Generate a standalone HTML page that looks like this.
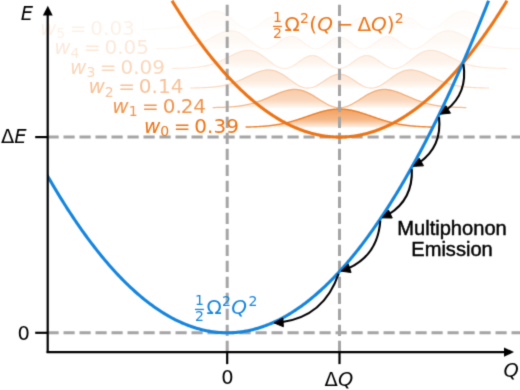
<!DOCTYPE html><html><head><meta charset="utf-8"><style>html,body{margin:0;padding:0;background:#fff;overflow:hidden}svg{display:block}</style></head><body><svg width="520" height="390" viewBox="0 0 520 390"><defs><style>polyline,path{stroke-linejoin:round}</style><filter id="bl" x="0" y="0" width="520" height="390" filterUnits="userSpaceOnUse" color-interpolation-filters="sRGB"><feConvolveMatrix order="3" kernelMatrix="0.0192 0.1001 0.0192 0.1001 0.5228 0.1001 0.0192 0.1001 0.0192" edgeMode="duplicate"/></filter><linearGradient id="g5" x1="0" y1="0" x2="0" y2="1"><stop offset="0" stop-color="#ec7416" stop-opacity="0.031"/><stop offset="0.6" stop-color="#ec7416" stop-opacity="0.023"/><stop offset="1" stop-color="#ec7416" stop-opacity="0.005"/></linearGradient><linearGradient id="g4" x1="0" y1="0" x2="0" y2="1"><stop offset="0" stop-color="#ec7416" stop-opacity="0.058"/><stop offset="0.6" stop-color="#ec7416" stop-opacity="0.043"/><stop offset="1" stop-color="#ec7416" stop-opacity="0.009"/></linearGradient><linearGradient id="g3" x1="0" y1="0" x2="0" y2="1"><stop offset="0" stop-color="#ec7416" stop-opacity="0.117"/><stop offset="0.6" stop-color="#ec7416" stop-opacity="0.086"/><stop offset="1" stop-color="#ec7416" stop-opacity="0.017"/></linearGradient><linearGradient id="g2" x1="0" y1="0" x2="0" y2="1"><stop offset="0" stop-color="#ec7416" stop-opacity="0.199"/><stop offset="0.6" stop-color="#ec7416" stop-opacity="0.146"/><stop offset="1" stop-color="#ec7416" stop-opacity="0.029"/></linearGradient><linearGradient id="g1" x1="0" y1="0" x2="0" y2="1"><stop offset="0" stop-color="#ec7416" stop-opacity="0.380"/><stop offset="0.6" stop-color="#ec7416" stop-opacity="0.279"/><stop offset="1" stop-color="#ec7416" stop-opacity="0.056"/></linearGradient><linearGradient id="g0" x1="0" y1="0" x2="0" y2="1"><stop offset="0" stop-color="#ec7416" stop-opacity="0.680"/><stop offset="0.6" stop-color="#ec7416" stop-opacity="0.500"/><stop offset="1" stop-color="#ec7416" stop-opacity="0.100"/></linearGradient><clipPath id="ax"><rect x="47.7" y="-10" width="490" height="362"/></clipPath></defs><g filter="url(#bl)">
<rect width="520" height="390" fill="#fff"/>
<polygon points="141.57,29.25 142.89,29.24 144.21,29.23 145.54,29.21 146.86,29.20 148.19,29.18 149.51,29.16 150.83,29.13 152.16,29.10 153.48,29.06 154.81,29.02 156.13,28.97 157.45,28.92 158.78,28.85 160.10,28.78 161.43,28.70 162.75,28.60 164.07,28.50 165.40,28.37 166.72,28.24 168.05,28.08 169.37,27.91 170.69,27.72 172.02,27.50 173.34,27.27 174.67,27.01 175.99,26.72 177.31,26.40 178.64,26.06 179.96,25.68 181.29,25.27 182.61,24.83 183.93,24.36 185.26,23.86 186.58,23.32 187.91,22.75 189.23,22.15 190.55,21.53 191.88,20.87 193.20,20.19 194.53,19.50 195.85,18.78 197.17,18.06 198.50,17.33 199.82,16.61 201.15,15.89 202.47,15.19 203.79,14.51 205.12,13.87 206.44,13.26 207.77,12.71 209.09,12.22 210.41,11.80 211.74,11.46 213.06,11.21 214.39,11.05 215.71,11.00 217.03,11.05 218.36,11.22 219.68,11.50 221.00,11.90 222.33,12.41 223.65,13.04 224.98,13.77 226.30,14.61 227.62,15.54 228.95,16.55 230.27,17.62 231.60,18.75 232.92,19.91 234.24,21.08 235.57,22.25 236.89,23.39 238.22,24.49 239.54,25.52 240.86,26.46 242.19,27.29 243.51,27.99 244.84,28.56 246.16,28.97 247.48,29.22 248.81,29.30 250.13,29.21 251.46,28.96 252.78,28.54 254.10,27.97 255.43,27.27 256.75,26.44 258.08,25.53 259.40,24.54 260.72,23.51 262.05,22.46 263.37,21.43 264.70,20.45 266.02,19.54 267.34,18.73 268.67,18.06 269.99,17.53 271.32,17.17 272.64,16.99 273.96,17.00 275.29,17.19 276.61,17.57 277.94,18.13 279.26,18.84 280.58,19.69 281.91,20.65 283.23,21.70 284.56,22.79 285.88,23.89 287.20,24.98 288.53,26.00 289.85,26.94 291.18,27.75 292.50,28.41 293.82,28.90 295.15,29.20 296.47,29.30 297.80,29.20 299.12,28.89 300.44,28.40 301.77,27.74 303.09,26.92 304.41,25.99 305.74,24.98 307.06,23.92 308.39,22.84 309.71,21.80 311.03,20.83 312.36,19.96 313.68,19.23 315.01,18.67 316.33,18.29 317.65,18.12 318.98,18.15 320.30,18.39 321.63,18.83 322.95,19.45 324.27,20.23 325.60,21.14 326.92,22.16 328.25,23.22 329.57,24.31 330.89,25.38 332.22,26.38 333.54,27.28 334.87,28.05 336.19,28.65 337.51,29.06 338.84,29.27 340.16,29.27 341.49,29.06 342.81,28.65 344.13,28.05 345.46,27.28 346.78,26.38 348.11,25.38 349.43,24.31 350.75,23.22 352.08,22.16 353.40,21.14 354.73,20.23 356.05,19.45 357.37,18.83 358.70,18.39 360.02,18.15 361.35,18.12 362.67,18.29 363.99,18.67 365.32,19.23 366.64,19.96 367.97,20.83 369.29,21.80 370.61,22.84 371.94,23.92 373.26,24.98 374.59,25.99 375.91,26.92 377.23,27.74 378.56,28.40 379.88,28.89 381.20,29.20 382.53,29.30 383.85,29.20 385.18,28.90 386.50,28.41 387.82,27.75 389.15,26.94 390.47,26.00 391.80,24.98 393.12,23.89 394.44,22.79 395.77,21.70 397.09,20.65 398.42,19.69 399.74,18.84 401.06,18.13 402.39,17.57 403.71,17.19 405.04,17.00 406.36,16.99 407.68,17.17 409.01,17.53 410.33,18.06 411.66,18.73 412.98,19.54 414.30,20.45 415.63,21.43 416.95,22.46 418.28,23.51 419.60,24.54 420.92,25.53 422.25,26.44 423.57,27.27 424.90,27.97 426.22,28.54 427.54,28.96 428.87,29.21 430.19,29.30 431.52,29.22 432.84,28.97 434.16,28.56 435.49,27.99 436.81,27.29 438.14,26.46 439.46,25.52 440.78,24.49 442.11,23.39 443.43,22.25 444.76,21.08 446.08,19.91 447.40,18.75 448.73,17.62 450.05,16.55 451.38,15.54 452.70,14.61 454.02,13.77 455.35,13.04 456.67,12.41 458.00,11.90 459.32,11.50 460.64,11.22 461.97,11.05 463.29,11.00 464.61,11.05 465.94,11.21 467.26,11.46 468.59,11.80 469.91,12.22 471.23,12.71 472.56,13.26 473.88,13.87 475.21,14.51 476.53,15.19 477.85,15.89 479.18,16.61 480.50,17.33 481.83,18.06 483.15,18.78 484.47,19.50 485.80,20.19 487.12,20.87 488.45,21.53 489.77,22.15 491.09,22.75 492.42,23.32 493.74,23.86 495.07,24.36 496.39,24.83 497.71,25.27 499.04,25.68 500.36,26.06 501.69,26.40 503.01,26.72 504.33,27.01 505.66,27.27 506.98,27.50 508.31,27.72 509.63,27.91 510.95,28.08 512.28,28.24 513.60,28.37 514.93,28.50 516.25,28.60 517.57,28.70 518.90,28.78 520.22,28.85 521.55,28.92 522.87,28.97 524.19,29.02 525.52,29.06 526.84,29.10 528.17,29.13 529.49,29.16 530.81,29.18 532.14,29.20 533.46,29.21 534.79,29.23 536.11,29.24 537.43,29.25 537.43,29.30 141.57,29.30" fill="url(#g5)"/>
<polyline points="141.57,29.25 142.89,29.24 144.21,29.23 145.54,29.21 146.86,29.20 148.19,29.18 149.51,29.16 150.83,29.13 152.16,29.10 153.48,29.06 154.81,29.02 156.13,28.97 157.45,28.92 158.78,28.85 160.10,28.78 161.43,28.70 162.75,28.60 164.07,28.50 165.40,28.37 166.72,28.24 168.05,28.08 169.37,27.91 170.69,27.72 172.02,27.50 173.34,27.27 174.67,27.01 175.99,26.72 177.31,26.40 178.64,26.06 179.96,25.68 181.29,25.27 182.61,24.83 183.93,24.36 185.26,23.86 186.58,23.32 187.91,22.75 189.23,22.15 190.55,21.53 191.88,20.87 193.20,20.19 194.53,19.50 195.85,18.78 197.17,18.06 198.50,17.33 199.82,16.61 201.15,15.89 202.47,15.19 203.79,14.51 205.12,13.87 206.44,13.26 207.77,12.71 209.09,12.22 210.41,11.80 211.74,11.46 213.06,11.21 214.39,11.05 215.71,11.00 217.03,11.05 218.36,11.22 219.68,11.50 221.00,11.90 222.33,12.41 223.65,13.04 224.98,13.77 226.30,14.61 227.62,15.54 228.95,16.55 230.27,17.62 231.60,18.75 232.92,19.91 234.24,21.08 235.57,22.25 236.89,23.39 238.22,24.49 239.54,25.52 240.86,26.46 242.19,27.29 243.51,27.99 244.84,28.56 246.16,28.97 247.48,29.22 248.81,29.30 250.13,29.21 251.46,28.96 252.78,28.54 254.10,27.97 255.43,27.27 256.75,26.44 258.08,25.53 259.40,24.54 260.72,23.51 262.05,22.46 263.37,21.43 264.70,20.45 266.02,19.54 267.34,18.73 268.67,18.06 269.99,17.53 271.32,17.17 272.64,16.99 273.96,17.00 275.29,17.19 276.61,17.57 277.94,18.13 279.26,18.84 280.58,19.69 281.91,20.65 283.23,21.70 284.56,22.79 285.88,23.89 287.20,24.98 288.53,26.00 289.85,26.94 291.18,27.75 292.50,28.41 293.82,28.90 295.15,29.20 296.47,29.30 297.80,29.20 299.12,28.89 300.44,28.40 301.77,27.74 303.09,26.92 304.41,25.99 305.74,24.98 307.06,23.92 308.39,22.84 309.71,21.80 311.03,20.83 312.36,19.96 313.68,19.23 315.01,18.67 316.33,18.29 317.65,18.12 318.98,18.15 320.30,18.39 321.63,18.83 322.95,19.45 324.27,20.23 325.60,21.14 326.92,22.16 328.25,23.22 329.57,24.31 330.89,25.38 332.22,26.38 333.54,27.28 334.87,28.05 336.19,28.65 337.51,29.06 338.84,29.27 340.16,29.27 341.49,29.06 342.81,28.65 344.13,28.05 345.46,27.28 346.78,26.38 348.11,25.38 349.43,24.31 350.75,23.22 352.08,22.16 353.40,21.14 354.73,20.23 356.05,19.45 357.37,18.83 358.70,18.39 360.02,18.15 361.35,18.12 362.67,18.29 363.99,18.67 365.32,19.23 366.64,19.96 367.97,20.83 369.29,21.80 370.61,22.84 371.94,23.92 373.26,24.98 374.59,25.99 375.91,26.92 377.23,27.74 378.56,28.40 379.88,28.89 381.20,29.20 382.53,29.30 383.85,29.20 385.18,28.90 386.50,28.41 387.82,27.75 389.15,26.94 390.47,26.00 391.80,24.98 393.12,23.89 394.44,22.79 395.77,21.70 397.09,20.65 398.42,19.69 399.74,18.84 401.06,18.13 402.39,17.57 403.71,17.19 405.04,17.00 406.36,16.99 407.68,17.17 409.01,17.53 410.33,18.06 411.66,18.73 412.98,19.54 414.30,20.45 415.63,21.43 416.95,22.46 418.28,23.51 419.60,24.54 420.92,25.53 422.25,26.44 423.57,27.27 424.90,27.97 426.22,28.54 427.54,28.96 428.87,29.21 430.19,29.30 431.52,29.22 432.84,28.97 434.16,28.56 435.49,27.99 436.81,27.29 438.14,26.46 439.46,25.52 440.78,24.49 442.11,23.39 443.43,22.25 444.76,21.08 446.08,19.91 447.40,18.75 448.73,17.62 450.05,16.55 451.38,15.54 452.70,14.61 454.02,13.77 455.35,13.04 456.67,12.41 458.00,11.90 459.32,11.50 460.64,11.22 461.97,11.05 463.29,11.00 464.61,11.05 465.94,11.21 467.26,11.46 468.59,11.80 469.91,12.22 471.23,12.71 472.56,13.26 473.88,13.87 475.21,14.51 476.53,15.19 477.85,15.89 479.18,16.61 480.50,17.33 481.83,18.06 483.15,18.78 484.47,19.50 485.80,20.19 487.12,20.87 488.45,21.53 489.77,22.15 491.09,22.75 492.42,23.32 493.74,23.86 495.07,24.36 496.39,24.83 497.71,25.27 499.04,25.68 500.36,26.06 501.69,26.40 503.01,26.72 504.33,27.01 505.66,27.27 506.98,27.50 508.31,27.72 509.63,27.91 510.95,28.08 512.28,28.24 513.60,28.37 514.93,28.50 516.25,28.60 517.57,28.70 518.90,28.78 520.22,28.85 521.55,28.92 522.87,28.97 524.19,29.02 525.52,29.06 526.84,29.10 528.17,29.13 529.49,29.16 530.81,29.18 532.14,29.20 533.46,29.21 534.79,29.23 536.11,29.24 537.43,29.25" fill="none" stroke="#ec7416" stroke-opacity="0.041" stroke-width="1.02"/>
<polygon points="155.78,48.84 157.01,48.83 158.24,48.82 159.47,48.80 160.70,48.79 161.93,48.77 163.16,48.74 164.39,48.72 165.62,48.69 166.84,48.66 168.07,48.62 169.30,48.58 170.53,48.53 171.76,48.47 172.99,48.41 174.22,48.34 175.45,48.26 176.68,48.17 177.90,48.06 179.13,47.95 180.36,47.83 181.59,47.69 182.82,47.53 184.05,47.36 185.28,47.18 186.51,46.97 187.74,46.75 188.96,46.50 190.19,46.23 191.42,45.94 192.65,45.63 193.88,45.29 195.11,44.92 196.34,44.53 197.57,44.12 198.80,43.68 200.02,43.21 201.25,42.71 202.48,42.19 203.71,41.65 204.94,41.08 206.17,40.50 207.40,39.89 208.63,39.27 209.85,38.63 211.08,37.98 212.31,37.33 213.54,36.68 214.77,36.03 216.00,35.39 217.23,34.76 218.46,34.15 219.69,33.57 220.91,33.02 222.14,32.52 223.37,32.05 224.60,31.64 225.83,31.29 227.06,31.01 228.29,30.79 229.52,30.66 230.75,30.60 231.97,30.63 233.20,30.75 234.43,30.96 235.66,31.26 236.89,31.66 238.12,32.15 239.35,32.73 240.58,33.39 241.81,34.13 243.03,34.95 244.26,35.83 245.49,36.77 246.72,37.76 247.95,38.77 249.18,39.81 250.41,40.86 251.64,41.90 252.87,42.92 254.09,43.90 255.32,44.83 256.55,45.69 257.78,46.48 259.01,47.17 260.24,47.76 261.47,48.23 262.70,48.58 263.92,48.81 265.15,48.90 266.38,48.85 267.61,48.68 268.84,48.37 270.07,47.94 271.30,47.40 272.53,46.75 273.76,46.01 274.98,45.19 276.21,44.31 277.44,43.40 278.67,42.46 279.90,41.53 281.13,40.62 282.36,39.75 283.59,38.94 284.82,38.21 286.04,37.59 287.27,37.07 288.50,36.68 289.73,36.43 290.96,36.33 292.19,36.36 293.42,36.55 294.65,36.88 295.88,37.35 297.10,37.95 298.33,38.65 299.56,39.46 300.79,40.34 302.02,41.28 303.25,42.25 304.48,43.24 305.71,44.21 306.94,45.14 308.16,46.01 309.39,46.80 310.62,47.49 311.85,48.05 313.08,48.48 314.31,48.76 315.54,48.89 316.77,48.86 317.99,48.68 319.22,48.35 320.45,47.87 321.68,47.26 322.91,46.54 324.14,45.73 325.37,44.84 326.60,43.90 327.83,42.94 329.05,41.98 330.28,41.05 331.51,40.17 332.74,39.37 333.97,38.66 335.20,38.07 336.43,37.61 337.66,37.30 338.89,37.14 340.11,37.14 341.34,37.30 342.57,37.61 343.80,38.07 345.03,38.66 346.26,39.37 347.49,40.17 348.72,41.05 349.95,41.98 351.17,42.94 352.40,43.90 353.63,44.84 354.86,45.73 356.09,46.54 357.32,47.26 358.55,47.87 359.78,48.35 361.01,48.68 362.23,48.86 363.46,48.89 364.69,48.76 365.92,48.48 367.15,48.05 368.38,47.49 369.61,46.80 370.84,46.01 372.06,45.14 373.29,44.21 374.52,43.24 375.75,42.25 376.98,41.28 378.21,40.34 379.44,39.46 380.67,38.65 381.90,37.95 383.12,37.35 384.35,36.88 385.58,36.55 386.81,36.36 388.04,36.33 389.27,36.43 390.50,36.68 391.73,37.07 392.96,37.59 394.18,38.21 395.41,38.94 396.64,39.75 397.87,40.62 399.10,41.53 400.33,42.46 401.56,43.40 402.79,44.31 404.02,45.19 405.24,46.01 406.47,46.75 407.70,47.40 408.93,47.94 410.16,48.37 411.39,48.68 412.62,48.85 413.85,48.90 415.08,48.81 416.30,48.58 417.53,48.23 418.76,47.76 419.99,47.17 421.22,46.48 422.45,45.69 423.68,44.83 424.91,43.90 426.13,42.92 427.36,41.90 428.59,40.86 429.82,39.81 431.05,38.77 432.28,37.76 433.51,36.77 434.74,35.83 435.97,34.95 437.19,34.13 438.42,33.39 439.65,32.73 440.88,32.15 442.11,31.66 443.34,31.26 444.57,30.96 445.80,30.75 447.03,30.63 448.25,30.60 449.48,30.66 450.71,30.79 451.94,31.01 453.17,31.29 454.40,31.64 455.63,32.05 456.86,32.52 458.09,33.02 459.31,33.57 460.54,34.15 461.77,34.76 463.00,35.39 464.23,36.03 465.46,36.68 466.69,37.33 467.92,37.98 469.15,38.63 470.37,39.27 471.60,39.89 472.83,40.50 474.06,41.08 475.29,41.65 476.52,42.19 477.75,42.71 478.98,43.21 480.20,43.68 481.43,44.12 482.66,44.53 483.89,44.92 485.12,45.29 486.35,45.63 487.58,45.94 488.81,46.23 490.04,46.50 491.26,46.75 492.49,46.97 493.72,47.18 494.95,47.36 496.18,47.53 497.41,47.69 498.64,47.83 499.87,47.95 501.10,48.06 502.32,48.17 503.55,48.26 504.78,48.34 506.01,48.41 507.24,48.47 508.47,48.53 509.70,48.58 510.93,48.62 512.16,48.66 513.38,48.69 514.61,48.72 515.84,48.74 517.07,48.77 518.30,48.79 519.53,48.80 520.76,48.82 521.99,48.83 523.22,48.84 523.22,48.90 155.78,48.90" fill="url(#g4)"/>
<polyline points="155.78,48.84 157.01,48.83 158.24,48.82 159.47,48.80 160.70,48.79 161.93,48.77 163.16,48.74 164.39,48.72 165.62,48.69 166.84,48.66 168.07,48.62 169.30,48.58 170.53,48.53 171.76,48.47 172.99,48.41 174.22,48.34 175.45,48.26 176.68,48.17 177.90,48.06 179.13,47.95 180.36,47.83 181.59,47.69 182.82,47.53 184.05,47.36 185.28,47.18 186.51,46.97 187.74,46.75 188.96,46.50 190.19,46.23 191.42,45.94 192.65,45.63 193.88,45.29 195.11,44.92 196.34,44.53 197.57,44.12 198.80,43.68 200.02,43.21 201.25,42.71 202.48,42.19 203.71,41.65 204.94,41.08 206.17,40.50 207.40,39.89 208.63,39.27 209.85,38.63 211.08,37.98 212.31,37.33 213.54,36.68 214.77,36.03 216.00,35.39 217.23,34.76 218.46,34.15 219.69,33.57 220.91,33.02 222.14,32.52 223.37,32.05 224.60,31.64 225.83,31.29 227.06,31.01 228.29,30.79 229.52,30.66 230.75,30.60 231.97,30.63 233.20,30.75 234.43,30.96 235.66,31.26 236.89,31.66 238.12,32.15 239.35,32.73 240.58,33.39 241.81,34.13 243.03,34.95 244.26,35.83 245.49,36.77 246.72,37.76 247.95,38.77 249.18,39.81 250.41,40.86 251.64,41.90 252.87,42.92 254.09,43.90 255.32,44.83 256.55,45.69 257.78,46.48 259.01,47.17 260.24,47.76 261.47,48.23 262.70,48.58 263.92,48.81 265.15,48.90 266.38,48.85 267.61,48.68 268.84,48.37 270.07,47.94 271.30,47.40 272.53,46.75 273.76,46.01 274.98,45.19 276.21,44.31 277.44,43.40 278.67,42.46 279.90,41.53 281.13,40.62 282.36,39.75 283.59,38.94 284.82,38.21 286.04,37.59 287.27,37.07 288.50,36.68 289.73,36.43 290.96,36.33 292.19,36.36 293.42,36.55 294.65,36.88 295.88,37.35 297.10,37.95 298.33,38.65 299.56,39.46 300.79,40.34 302.02,41.28 303.25,42.25 304.48,43.24 305.71,44.21 306.94,45.14 308.16,46.01 309.39,46.80 310.62,47.49 311.85,48.05 313.08,48.48 314.31,48.76 315.54,48.89 316.77,48.86 317.99,48.68 319.22,48.35 320.45,47.87 321.68,47.26 322.91,46.54 324.14,45.73 325.37,44.84 326.60,43.90 327.83,42.94 329.05,41.98 330.28,41.05 331.51,40.17 332.74,39.37 333.97,38.66 335.20,38.07 336.43,37.61 337.66,37.30 338.89,37.14 340.11,37.14 341.34,37.30 342.57,37.61 343.80,38.07 345.03,38.66 346.26,39.37 347.49,40.17 348.72,41.05 349.95,41.98 351.17,42.94 352.40,43.90 353.63,44.84 354.86,45.73 356.09,46.54 357.32,47.26 358.55,47.87 359.78,48.35 361.01,48.68 362.23,48.86 363.46,48.89 364.69,48.76 365.92,48.48 367.15,48.05 368.38,47.49 369.61,46.80 370.84,46.01 372.06,45.14 373.29,44.21 374.52,43.24 375.75,42.25 376.98,41.28 378.21,40.34 379.44,39.46 380.67,38.65 381.90,37.95 383.12,37.35 384.35,36.88 385.58,36.55 386.81,36.36 388.04,36.33 389.27,36.43 390.50,36.68 391.73,37.07 392.96,37.59 394.18,38.21 395.41,38.94 396.64,39.75 397.87,40.62 399.10,41.53 400.33,42.46 401.56,43.40 402.79,44.31 404.02,45.19 405.24,46.01 406.47,46.75 407.70,47.40 408.93,47.94 410.16,48.37 411.39,48.68 412.62,48.85 413.85,48.90 415.08,48.81 416.30,48.58 417.53,48.23 418.76,47.76 419.99,47.17 421.22,46.48 422.45,45.69 423.68,44.83 424.91,43.90 426.13,42.92 427.36,41.90 428.59,40.86 429.82,39.81 431.05,38.77 432.28,37.76 433.51,36.77 434.74,35.83 435.97,34.95 437.19,34.13 438.42,33.39 439.65,32.73 440.88,32.15 442.11,31.66 443.34,31.26 444.57,30.96 445.80,30.75 447.03,30.63 448.25,30.60 449.48,30.66 450.71,30.79 451.94,31.01 453.17,31.29 454.40,31.64 455.63,32.05 456.86,32.52 458.09,33.02 459.31,33.57 460.54,34.15 461.77,34.76 463.00,35.39 464.23,36.03 465.46,36.68 466.69,37.33 467.92,37.98 469.15,38.63 470.37,39.27 471.60,39.89 472.83,40.50 474.06,41.08 475.29,41.65 476.52,42.19 477.75,42.71 478.98,43.21 480.20,43.68 481.43,44.12 482.66,44.53 483.89,44.92 485.12,45.29 486.35,45.63 487.58,45.94 488.81,46.23 490.04,46.50 491.26,46.75 492.49,46.97 493.72,47.18 494.95,47.36 496.18,47.53 497.41,47.69 498.64,47.83 499.87,47.95 501.10,48.06 502.32,48.17 503.55,48.26 504.78,48.34 506.01,48.41 507.24,48.47 508.47,48.53 509.70,48.58 510.93,48.62 512.16,48.66 513.38,48.69 514.61,48.72 515.84,48.74 517.07,48.77 518.30,48.79 519.53,48.80 520.76,48.82 521.99,48.83 523.22,48.84" fill="none" stroke="#ec7416" stroke-opacity="0.077" stroke-width="1.03"/>
<polygon points="171.69,68.43 172.81,68.41 173.94,68.40 175.06,68.39 176.18,68.37 177.30,68.35 178.43,68.33 179.55,68.30 180.67,68.28 181.79,68.25 182.92,68.21 184.04,68.17 185.16,68.13 186.28,68.08 187.41,68.03 188.53,67.97 189.65,67.90 190.77,67.83 191.90,67.74 193.02,67.65 194.14,67.55 195.26,67.44 196.39,67.32 197.51,67.19 198.63,67.05 199.75,66.89 200.88,66.72 202.00,66.54 203.12,66.34 204.24,66.12 205.37,65.89 206.49,65.64 207.61,65.37 208.73,65.08 209.86,64.78 210.98,64.45 212.10,64.11 213.22,63.74 214.35,63.36 215.47,62.95 216.59,62.53 217.71,62.08 218.84,61.62 219.96,61.13 221.08,60.63 222.20,60.12 223.33,59.59 224.45,59.05 225.57,58.49 226.69,57.93 227.82,57.36 228.94,56.79 230.06,56.22 231.18,55.65 232.31,55.09 233.43,54.54 234.55,54.00 235.67,53.48 236.80,52.99 237.92,52.52 239.04,52.08 240.16,51.68 241.28,51.31 242.41,50.99 243.53,50.72 244.65,50.51 245.77,50.34 246.90,50.24 248.02,50.20 249.14,50.22 250.26,50.32 251.39,50.48 252.51,50.71 253.63,51.01 254.75,51.38 255.88,51.82 257.00,52.33 258.12,52.90 259.24,53.53 260.37,54.22 261.49,54.95 262.61,55.74 263.73,56.56 264.86,57.42 265.98,58.30 267.10,59.20 268.22,60.10 269.35,61.01 270.47,61.90 271.59,62.77 272.71,63.61 273.84,64.41 274.96,65.16 276.08,65.86 277.20,66.48 278.33,67.04 279.45,67.51 280.57,67.90 281.69,68.19 282.82,68.39 283.94,68.49 285.06,68.49 286.18,68.39 287.31,68.19 288.43,67.90 289.55,67.51 290.67,67.04 291.80,66.49 292.92,65.87 294.04,65.19 295.16,64.46 296.29,63.69 297.41,62.89 298.53,62.07 299.65,61.25 300.78,60.45 301.90,59.66 303.02,58.91 304.14,58.21 305.27,57.57 306.39,57.00 307.51,56.51 308.63,56.11 309.75,55.81 310.88,55.60 312.00,55.51 313.12,55.52 314.24,55.63 315.37,55.86 316.49,56.18 317.61,56.61 318.73,57.12 319.86,57.72 320.98,58.39 322.10,59.12 323.22,59.91 324.35,60.72 325.47,61.56 326.59,62.41 327.71,63.25 328.84,64.08 329.96,64.86 331.08,65.60 332.20,66.28 333.33,66.88 334.45,67.40 335.57,67.83 336.69,68.15 337.82,68.37 338.94,68.49 340.06,68.49 341.18,68.37 342.31,68.15 343.43,67.83 344.55,67.40 345.67,66.88 346.80,66.28 347.92,65.60 349.04,64.86 350.16,64.08 351.29,63.25 352.41,62.41 353.53,61.56 354.65,60.72 355.78,59.91 356.90,59.12 358.02,58.39 359.14,57.72 360.27,57.12 361.39,56.61 362.51,56.18 363.63,55.86 364.76,55.63 365.88,55.52 367.00,55.51 368.12,55.60 369.25,55.81 370.37,56.11 371.49,56.51 372.61,57.00 373.73,57.57 374.86,58.21 375.98,58.91 377.10,59.66 378.22,60.45 379.35,61.25 380.47,62.07 381.59,62.89 382.71,63.69 383.84,64.46 384.96,65.19 386.08,65.87 387.20,66.49 388.33,67.04 389.45,67.51 390.57,67.90 391.69,68.19 392.82,68.39 393.94,68.49 395.06,68.49 396.18,68.39 397.31,68.19 398.43,67.90 399.55,67.51 400.67,67.04 401.80,66.48 402.92,65.86 404.04,65.16 405.16,64.41 406.29,63.61 407.41,62.77 408.53,61.90 409.65,61.01 410.78,60.10 411.90,59.20 413.02,58.30 414.14,57.42 415.27,56.56 416.39,55.74 417.51,54.95 418.63,54.22 419.76,53.53 420.88,52.90 422.00,52.33 423.12,51.82 424.25,51.38 425.37,51.01 426.49,50.71 427.61,50.48 428.74,50.32 429.86,50.22 430.98,50.20 432.10,50.24 433.23,50.34 434.35,50.51 435.47,50.72 436.59,50.99 437.72,51.31 438.84,51.68 439.96,52.08 441.08,52.52 442.20,52.99 443.33,53.48 444.45,54.00 445.57,54.54 446.69,55.09 447.82,55.65 448.94,56.22 450.06,56.79 451.18,57.36 452.31,57.93 453.43,58.49 454.55,59.05 455.67,59.59 456.80,60.12 457.92,60.63 459.04,61.13 460.16,61.62 461.29,62.08 462.41,62.53 463.53,62.95 464.65,63.36 465.78,63.74 466.90,64.11 468.02,64.45 469.14,64.78 470.27,65.08 471.39,65.37 472.51,65.64 473.63,65.89 474.76,66.12 475.88,66.34 477.00,66.54 478.12,66.72 479.25,66.89 480.37,67.05 481.49,67.19 482.61,67.32 483.74,67.44 484.86,67.55 485.98,67.65 487.10,67.74 488.23,67.83 489.35,67.90 490.47,67.97 491.59,68.03 492.72,68.08 493.84,68.13 494.96,68.17 496.08,68.21 497.21,68.25 498.33,68.28 499.45,68.30 500.57,68.33 501.70,68.35 502.82,68.37 503.94,68.39 505.06,68.40 506.19,68.41 507.31,68.43 507.31,68.50 171.69,68.50" fill="url(#g3)"/>
<polyline points="171.69,68.43 172.81,68.41 173.94,68.40 175.06,68.39 176.18,68.37 177.30,68.35 178.43,68.33 179.55,68.30 180.67,68.28 181.79,68.25 182.92,68.21 184.04,68.17 185.16,68.13 186.28,68.08 187.41,68.03 188.53,67.97 189.65,67.90 190.77,67.83 191.90,67.74 193.02,67.65 194.14,67.55 195.26,67.44 196.39,67.32 197.51,67.19 198.63,67.05 199.75,66.89 200.88,66.72 202.00,66.54 203.12,66.34 204.24,66.12 205.37,65.89 206.49,65.64 207.61,65.37 208.73,65.08 209.86,64.78 210.98,64.45 212.10,64.11 213.22,63.74 214.35,63.36 215.47,62.95 216.59,62.53 217.71,62.08 218.84,61.62 219.96,61.13 221.08,60.63 222.20,60.12 223.33,59.59 224.45,59.05 225.57,58.49 226.69,57.93 227.82,57.36 228.94,56.79 230.06,56.22 231.18,55.65 232.31,55.09 233.43,54.54 234.55,54.00 235.67,53.48 236.80,52.99 237.92,52.52 239.04,52.08 240.16,51.68 241.28,51.31 242.41,50.99 243.53,50.72 244.65,50.51 245.77,50.34 246.90,50.24 248.02,50.20 249.14,50.22 250.26,50.32 251.39,50.48 252.51,50.71 253.63,51.01 254.75,51.38 255.88,51.82 257.00,52.33 258.12,52.90 259.24,53.53 260.37,54.22 261.49,54.95 262.61,55.74 263.73,56.56 264.86,57.42 265.98,58.30 267.10,59.20 268.22,60.10 269.35,61.01 270.47,61.90 271.59,62.77 272.71,63.61 273.84,64.41 274.96,65.16 276.08,65.86 277.20,66.48 278.33,67.04 279.45,67.51 280.57,67.90 281.69,68.19 282.82,68.39 283.94,68.49 285.06,68.49 286.18,68.39 287.31,68.19 288.43,67.90 289.55,67.51 290.67,67.04 291.80,66.49 292.92,65.87 294.04,65.19 295.16,64.46 296.29,63.69 297.41,62.89 298.53,62.07 299.65,61.25 300.78,60.45 301.90,59.66 303.02,58.91 304.14,58.21 305.27,57.57 306.39,57.00 307.51,56.51 308.63,56.11 309.75,55.81 310.88,55.60 312.00,55.51 313.12,55.52 314.24,55.63 315.37,55.86 316.49,56.18 317.61,56.61 318.73,57.12 319.86,57.72 320.98,58.39 322.10,59.12 323.22,59.91 324.35,60.72 325.47,61.56 326.59,62.41 327.71,63.25 328.84,64.08 329.96,64.86 331.08,65.60 332.20,66.28 333.33,66.88 334.45,67.40 335.57,67.83 336.69,68.15 337.82,68.37 338.94,68.49 340.06,68.49 341.18,68.37 342.31,68.15 343.43,67.83 344.55,67.40 345.67,66.88 346.80,66.28 347.92,65.60 349.04,64.86 350.16,64.08 351.29,63.25 352.41,62.41 353.53,61.56 354.65,60.72 355.78,59.91 356.90,59.12 358.02,58.39 359.14,57.72 360.27,57.12 361.39,56.61 362.51,56.18 363.63,55.86 364.76,55.63 365.88,55.52 367.00,55.51 368.12,55.60 369.25,55.81 370.37,56.11 371.49,56.51 372.61,57.00 373.73,57.57 374.86,58.21 375.98,58.91 377.10,59.66 378.22,60.45 379.35,61.25 380.47,62.07 381.59,62.89 382.71,63.69 383.84,64.46 384.96,65.19 386.08,65.87 387.20,66.49 388.33,67.04 389.45,67.51 390.57,67.90 391.69,68.19 392.82,68.39 393.94,68.49 395.06,68.49 396.18,68.39 397.31,68.19 398.43,67.90 399.55,67.51 400.67,67.04 401.80,66.48 402.92,65.86 404.04,65.16 405.16,64.41 406.29,63.61 407.41,62.77 408.53,61.90 409.65,61.01 410.78,60.10 411.90,59.20 413.02,58.30 414.14,57.42 415.27,56.56 416.39,55.74 417.51,54.95 418.63,54.22 419.76,53.53 420.88,52.90 422.00,52.33 423.12,51.82 424.25,51.38 425.37,51.01 426.49,50.71 427.61,50.48 428.74,50.32 429.86,50.22 430.98,50.20 432.10,50.24 433.23,50.34 434.35,50.51 435.47,50.72 436.59,50.99 437.72,51.31 438.84,51.68 439.96,52.08 441.08,52.52 442.20,52.99 443.33,53.48 444.45,54.00 445.57,54.54 446.69,55.09 447.82,55.65 448.94,56.22 450.06,56.79 451.18,57.36 452.31,57.93 453.43,58.49 454.55,59.05 455.67,59.59 456.80,60.12 457.92,60.63 459.04,61.13 460.16,61.62 461.29,62.08 462.41,62.53 463.53,62.95 464.65,63.36 465.78,63.74 466.90,64.11 468.02,64.45 469.14,64.78 470.27,65.08 471.39,65.37 472.51,65.64 473.63,65.89 474.76,66.12 475.88,66.34 477.00,66.54 478.12,66.72 479.25,66.89 480.37,67.05 481.49,67.19 482.61,67.32 483.74,67.44 484.86,67.55 485.98,67.65 487.10,67.74 488.23,67.83 489.35,67.90 490.47,67.97 491.59,68.03 492.72,68.08 493.84,68.13 494.96,68.17 496.08,68.21 497.21,68.25 498.33,68.28 499.45,68.30 500.57,68.33 501.70,68.35 502.82,68.37 503.94,68.39 505.06,68.40 506.19,68.41 507.31,68.43" fill="none" stroke="#ec7416" stroke-opacity="0.155" stroke-width="1.07"/>
<polygon points="190.09,88.00 191.09,87.99 192.09,87.98 193.09,87.96 194.09,87.94 195.09,87.93 196.09,87.91 197.09,87.88 198.08,87.86 199.08,87.83 200.08,87.80 201.08,87.76 202.08,87.72 203.08,87.68 204.08,87.64 205.08,87.59 206.08,87.53 207.08,87.47 208.08,87.41 209.08,87.34 210.08,87.26 211.08,87.18 212.08,87.09 213.08,86.99 214.07,86.88 215.07,86.77 216.07,86.65 217.07,86.52 218.07,86.37 219.07,86.22 220.07,86.06 221.07,85.89 222.07,85.70 223.07,85.50 224.07,85.29 225.07,85.07 226.07,84.83 227.07,84.59 228.07,84.32 229.07,84.05 230.07,83.76 231.06,83.45 232.06,83.13 233.06,82.80 234.06,82.45 235.06,82.09 236.06,81.71 237.06,81.32 238.06,80.92 239.06,80.51 240.06,80.08 241.06,79.64 242.06,79.20 243.06,78.74 244.06,78.28 245.06,77.81 246.06,77.33 247.06,76.86 248.05,76.38 249.05,75.90 250.05,75.42 251.05,74.94 252.05,74.48 253.05,74.02 254.05,73.57 255.05,73.14 256.05,72.72 257.05,72.31 258.05,71.93 259.05,71.58 260.05,71.24 261.05,70.94 262.05,70.67 263.05,70.43 264.05,70.22 265.04,70.06 266.04,69.93 267.04,69.84 268.04,69.80 269.04,69.80 270.04,69.85 271.04,69.94 272.04,70.09 273.04,70.28 274.04,70.52 275.04,70.80 276.04,71.14 277.04,71.52 278.04,71.95 279.04,72.42 280.04,72.93 281.03,73.48 282.03,74.07 283.03,74.69 284.03,75.34 285.03,76.02 286.03,76.72 287.03,77.44 288.03,78.18 289.03,78.92 290.03,79.66 291.03,80.41 292.03,81.15 293.03,81.87 294.03,82.58 295.03,83.27 296.03,83.92 297.03,84.55 298.02,85.14 299.02,85.68 300.02,86.18 301.02,86.63 302.02,87.03 303.02,87.36 304.02,87.64 305.02,87.85 306.02,88.00 307.02,88.08 308.02,88.10 309.02,88.05 310.02,87.93 311.02,87.74 312.02,87.50 313.02,87.19 314.02,86.82 315.01,86.40 316.01,85.93 317.01,85.40 318.01,84.84 319.01,84.24 320.01,83.61 321.01,82.96 322.01,82.29 323.01,81.60 324.01,80.92 325.01,80.23 326.01,79.55 327.01,78.88 328.01,78.24 329.01,77.63 330.01,77.05 331.01,76.51 332.00,76.01 333.00,75.57 334.00,75.18 335.00,74.85 336.00,74.58 337.00,74.38 338.00,74.24 339.00,74.17 340.00,74.17 341.00,74.24 342.00,74.38 343.00,74.58 344.00,74.85 345.00,75.18 346.00,75.57 347.00,76.01 347.99,76.51 348.99,77.05 349.99,77.63 350.99,78.24 351.99,78.88 352.99,79.55 353.99,80.23 354.99,80.92 355.99,81.60 356.99,82.29 357.99,82.96 358.99,83.61 359.99,84.24 360.99,84.84 361.99,85.40 362.99,85.93 363.99,86.40 364.98,86.82 365.98,87.19 366.98,87.50 367.98,87.74 368.98,87.93 369.98,88.05 370.98,88.10 371.98,88.08 372.98,88.00 373.98,87.85 374.98,87.64 375.98,87.36 376.98,87.03 377.98,86.63 378.98,86.18 379.98,85.68 380.98,85.14 381.97,84.55 382.97,83.92 383.97,83.27 384.97,82.58 385.97,81.87 386.97,81.15 387.97,80.41 388.97,79.66 389.97,78.92 390.97,78.18 391.97,77.44 392.97,76.72 393.97,76.02 394.97,75.34 395.97,74.69 396.97,74.07 397.97,73.48 398.96,72.93 399.96,72.42 400.96,71.95 401.96,71.52 402.96,71.14 403.96,70.80 404.96,70.52 405.96,70.28 406.96,70.09 407.96,69.94 408.96,69.85 409.96,69.80 410.96,69.80 411.96,69.84 412.96,69.93 413.96,70.06 414.95,70.22 415.95,70.43 416.95,70.67 417.95,70.94 418.95,71.24 419.95,71.58 420.95,71.93 421.95,72.31 422.95,72.72 423.95,73.14 424.95,73.57 425.95,74.02 426.95,74.48 427.95,74.94 428.95,75.42 429.95,75.90 430.95,76.38 431.94,76.86 432.94,77.33 433.94,77.81 434.94,78.28 435.94,78.74 436.94,79.20 437.94,79.64 438.94,80.08 439.94,80.51 440.94,80.92 441.94,81.32 442.94,81.71 443.94,82.09 444.94,82.45 445.94,82.80 446.94,83.13 447.94,83.45 448.93,83.76 449.93,84.05 450.93,84.32 451.93,84.59 452.93,84.83 453.93,85.07 454.93,85.29 455.93,85.50 456.93,85.70 457.93,85.89 458.93,86.06 459.93,86.22 460.93,86.37 461.93,86.52 462.93,86.65 463.93,86.77 464.93,86.88 465.92,86.99 466.92,87.09 467.92,87.18 468.92,87.26 469.92,87.34 470.92,87.41 471.92,87.47 472.92,87.53 473.92,87.59 474.92,87.64 475.92,87.68 476.92,87.72 477.92,87.76 478.92,87.80 479.92,87.83 480.92,87.86 481.91,87.88 482.91,87.91 483.91,87.93 484.91,87.94 485.91,87.96 486.91,87.98 487.91,87.99 488.91,88.00 488.91,88.10 190.09,88.10" fill="url(#g2)"/>
<polyline points="190.09,88.00 191.09,87.99 192.09,87.98 193.09,87.96 194.09,87.94 195.09,87.93 196.09,87.91 197.09,87.88 198.08,87.86 199.08,87.83 200.08,87.80 201.08,87.76 202.08,87.72 203.08,87.68 204.08,87.64 205.08,87.59 206.08,87.53 207.08,87.47 208.08,87.41 209.08,87.34 210.08,87.26 211.08,87.18 212.08,87.09 213.08,86.99 214.07,86.88 215.07,86.77 216.07,86.65 217.07,86.52 218.07,86.37 219.07,86.22 220.07,86.06 221.07,85.89 222.07,85.70 223.07,85.50 224.07,85.29 225.07,85.07 226.07,84.83 227.07,84.59 228.07,84.32 229.07,84.05 230.07,83.76 231.06,83.45 232.06,83.13 233.06,82.80 234.06,82.45 235.06,82.09 236.06,81.71 237.06,81.32 238.06,80.92 239.06,80.51 240.06,80.08 241.06,79.64 242.06,79.20 243.06,78.74 244.06,78.28 245.06,77.81 246.06,77.33 247.06,76.86 248.05,76.38 249.05,75.90 250.05,75.42 251.05,74.94 252.05,74.48 253.05,74.02 254.05,73.57 255.05,73.14 256.05,72.72 257.05,72.31 258.05,71.93 259.05,71.58 260.05,71.24 261.05,70.94 262.05,70.67 263.05,70.43 264.05,70.22 265.04,70.06 266.04,69.93 267.04,69.84 268.04,69.80 269.04,69.80 270.04,69.85 271.04,69.94 272.04,70.09 273.04,70.28 274.04,70.52 275.04,70.80 276.04,71.14 277.04,71.52 278.04,71.95 279.04,72.42 280.04,72.93 281.03,73.48 282.03,74.07 283.03,74.69 284.03,75.34 285.03,76.02 286.03,76.72 287.03,77.44 288.03,78.18 289.03,78.92 290.03,79.66 291.03,80.41 292.03,81.15 293.03,81.87 294.03,82.58 295.03,83.27 296.03,83.92 297.03,84.55 298.02,85.14 299.02,85.68 300.02,86.18 301.02,86.63 302.02,87.03 303.02,87.36 304.02,87.64 305.02,87.85 306.02,88.00 307.02,88.08 308.02,88.10 309.02,88.05 310.02,87.93 311.02,87.74 312.02,87.50 313.02,87.19 314.02,86.82 315.01,86.40 316.01,85.93 317.01,85.40 318.01,84.84 319.01,84.24 320.01,83.61 321.01,82.96 322.01,82.29 323.01,81.60 324.01,80.92 325.01,80.23 326.01,79.55 327.01,78.88 328.01,78.24 329.01,77.63 330.01,77.05 331.01,76.51 332.00,76.01 333.00,75.57 334.00,75.18 335.00,74.85 336.00,74.58 337.00,74.38 338.00,74.24 339.00,74.17 340.00,74.17 341.00,74.24 342.00,74.38 343.00,74.58 344.00,74.85 345.00,75.18 346.00,75.57 347.00,76.01 347.99,76.51 348.99,77.05 349.99,77.63 350.99,78.24 351.99,78.88 352.99,79.55 353.99,80.23 354.99,80.92 355.99,81.60 356.99,82.29 357.99,82.96 358.99,83.61 359.99,84.24 360.99,84.84 361.99,85.40 362.99,85.93 363.99,86.40 364.98,86.82 365.98,87.19 366.98,87.50 367.98,87.74 368.98,87.93 369.98,88.05 370.98,88.10 371.98,88.08 372.98,88.00 373.98,87.85 374.98,87.64 375.98,87.36 376.98,87.03 377.98,86.63 378.98,86.18 379.98,85.68 380.98,85.14 381.97,84.55 382.97,83.92 383.97,83.27 384.97,82.58 385.97,81.87 386.97,81.15 387.97,80.41 388.97,79.66 389.97,78.92 390.97,78.18 391.97,77.44 392.97,76.72 393.97,76.02 394.97,75.34 395.97,74.69 396.97,74.07 397.97,73.48 398.96,72.93 399.96,72.42 400.96,71.95 401.96,71.52 402.96,71.14 403.96,70.80 404.96,70.52 405.96,70.28 406.96,70.09 407.96,69.94 408.96,69.85 409.96,69.80 410.96,69.80 411.96,69.84 412.96,69.93 413.96,70.06 414.95,70.22 415.95,70.43 416.95,70.67 417.95,70.94 418.95,71.24 419.95,71.58 420.95,71.93 421.95,72.31 422.95,72.72 423.95,73.14 424.95,73.57 425.95,74.02 426.95,74.48 427.95,74.94 428.95,75.42 429.95,75.90 430.95,76.38 431.94,76.86 432.94,77.33 433.94,77.81 434.94,78.28 435.94,78.74 436.94,79.20 437.94,79.64 438.94,80.08 439.94,80.51 440.94,80.92 441.94,81.32 442.94,81.71 443.94,82.09 444.94,82.45 445.94,82.80 446.94,83.13 447.94,83.45 448.93,83.76 449.93,84.05 450.93,84.32 451.93,84.59 452.93,84.83 453.93,85.07 454.93,85.29 455.93,85.50 456.93,85.70 457.93,85.89 458.93,86.06 459.93,86.22 460.93,86.37 461.93,86.52 462.93,86.65 463.93,86.77 464.93,86.88 465.92,86.99 466.92,87.09 467.92,87.18 468.92,87.26 469.92,87.34 470.92,87.41 471.92,87.47 472.92,87.53 473.92,87.59 474.92,87.64 475.92,87.68 476.92,87.72 477.92,87.76 478.92,87.80 479.92,87.83 480.92,87.86 481.91,87.88 482.91,87.91 483.91,87.93 484.91,87.94 485.91,87.96 486.91,87.98 487.91,87.99 488.91,88.00" fill="none" stroke="#ec7416" stroke-opacity="0.263" stroke-width="1.12"/>
<polygon points="212.72,107.56 213.57,107.55 214.42,107.54 215.27,107.52 216.11,107.50 216.96,107.48 217.81,107.46 218.66,107.44 219.51,107.42 220.35,107.39 221.20,107.37 222.05,107.34 222.90,107.30 223.75,107.27 224.59,107.23 225.44,107.19 226.29,107.15 227.14,107.11 227.99,107.06 228.83,107.00 229.68,106.95 230.53,106.89 231.38,106.82 232.23,106.76 233.07,106.68 233.92,106.61 234.77,106.52 235.62,106.44 236.47,106.35 237.31,106.25 238.16,106.14 239.01,106.03 239.86,105.92 240.71,105.80 241.55,105.67 242.40,105.53 243.25,105.39 244.10,105.24 244.95,105.08 245.79,104.92 246.64,104.74 247.49,104.56 248.34,104.37 249.19,104.18 250.03,103.97 250.88,103.76 251.73,103.53 252.58,103.30 253.43,103.06 254.27,102.81 255.12,102.56 255.97,102.29 256.82,102.02 257.67,101.73 258.51,101.44 259.36,101.14 260.21,100.84 261.06,100.52 261.91,100.20 262.75,99.87 263.60,99.53 264.45,99.19 265.30,98.84 266.15,98.49 266.99,98.13 267.84,97.77 268.69,97.41 269.54,97.04 270.39,96.67 271.24,96.30 272.08,95.93 272.93,95.56 273.78,95.19 274.63,94.82 275.48,94.45 276.32,94.09 277.17,93.74 278.02,93.39 278.87,93.05 279.72,92.72 280.56,92.39 281.41,92.08 282.26,91.78 283.11,91.49 283.96,91.22 284.80,90.96 285.65,90.72 286.50,90.49 287.35,90.28 288.20,90.10 289.04,89.93 289.89,89.78 290.74,89.66 291.59,89.56 292.44,89.48 293.28,89.43 294.13,89.40 294.98,89.40 295.83,89.43 296.68,89.48 297.52,89.56 298.37,89.66 299.22,89.80 300.07,89.96 300.92,90.14 301.76,90.36 302.61,90.60 303.46,90.87 304.31,91.17 305.16,91.49 306.00,91.83 306.85,92.20 307.70,92.59 308.55,93.00 309.40,93.43 310.24,93.89 311.09,94.36 311.94,94.84 312.79,95.34 313.64,95.85 314.48,96.38 315.33,96.91 316.18,97.45 317.03,98.00 317.88,98.55 318.72,99.10 319.57,99.65 320.42,100.20 321.27,100.74 322.12,101.28 322.96,101.81 323.81,102.33 324.66,102.83 325.51,103.32 326.36,103.79 327.20,104.24 328.05,104.67 328.90,105.08 329.75,105.46 330.60,105.82 331.44,106.15 332.29,106.45 333.14,106.72 333.99,106.96 334.84,107.17 335.68,107.34 336.53,107.48 337.38,107.59 338.23,107.66 339.08,107.70 339.92,107.70 340.77,107.66 341.62,107.59 342.47,107.48 343.32,107.34 344.16,107.17 345.01,106.96 345.86,106.72 346.71,106.45 347.56,106.15 348.40,105.82 349.25,105.46 350.10,105.08 350.95,104.67 351.80,104.24 352.64,103.79 353.49,103.32 354.34,102.83 355.19,102.33 356.04,101.81 356.88,101.28 357.73,100.74 358.58,100.20 359.43,99.65 360.28,99.10 361.12,98.55 361.97,98.00 362.82,97.45 363.67,96.91 364.52,96.38 365.36,95.85 366.21,95.34 367.06,94.84 367.91,94.36 368.76,93.89 369.60,93.43 370.45,93.00 371.30,92.59 372.15,92.20 373.00,91.83 373.84,91.49 374.69,91.17 375.54,90.87 376.39,90.60 377.24,90.36 378.08,90.14 378.93,89.96 379.78,89.80 380.63,89.66 381.48,89.56 382.32,89.48 383.17,89.43 384.02,89.40 384.87,89.40 385.72,89.43 386.56,89.48 387.41,89.56 388.26,89.66 389.11,89.78 389.96,89.93 390.80,90.10 391.65,90.28 392.50,90.49 393.35,90.72 394.20,90.96 395.04,91.22 395.89,91.49 396.74,91.78 397.59,92.08 398.44,92.39 399.28,92.72 400.13,93.05 400.98,93.39 401.83,93.74 402.68,94.09 403.52,94.45 404.37,94.82 405.22,95.19 406.07,95.56 406.92,95.93 407.76,96.30 408.61,96.67 409.46,97.04 410.31,97.41 411.16,97.77 412.01,98.13 412.85,98.49 413.70,98.84 414.55,99.19 415.40,99.53 416.25,99.87 417.09,100.20 417.94,100.52 418.79,100.84 419.64,101.14 420.49,101.44 421.33,101.73 422.18,102.02 423.03,102.29 423.88,102.56 424.73,102.81 425.57,103.06 426.42,103.30 427.27,103.53 428.12,103.76 428.97,103.97 429.81,104.18 430.66,104.37 431.51,104.56 432.36,104.74 433.21,104.92 434.05,105.08 434.90,105.24 435.75,105.39 436.60,105.53 437.45,105.67 438.29,105.80 439.14,105.92 439.99,106.03 440.84,106.14 441.69,106.25 442.53,106.35 443.38,106.44 444.23,106.52 445.08,106.61 445.93,106.68 446.77,106.76 447.62,106.82 448.47,106.89 449.32,106.95 450.17,107.00 451.01,107.06 451.86,107.11 452.71,107.15 453.56,107.19 454.41,107.23 455.25,107.27 456.10,107.30 456.95,107.34 457.80,107.37 458.65,107.39 459.49,107.42 460.34,107.44 461.19,107.46 462.04,107.48 462.89,107.50 463.73,107.52 464.58,107.54 465.43,107.55 466.28,107.56 466.28,107.70 212.72,107.70" fill="url(#g1)"/>
<polyline points="212.72,107.56 213.57,107.55 214.42,107.54 215.27,107.52 216.11,107.50 216.96,107.48 217.81,107.46 218.66,107.44 219.51,107.42 220.35,107.39 221.20,107.37 222.05,107.34 222.90,107.30 223.75,107.27 224.59,107.23 225.44,107.19 226.29,107.15 227.14,107.11 227.99,107.06 228.83,107.00 229.68,106.95 230.53,106.89 231.38,106.82 232.23,106.76 233.07,106.68 233.92,106.61 234.77,106.52 235.62,106.44 236.47,106.35 237.31,106.25 238.16,106.14 239.01,106.03 239.86,105.92 240.71,105.80 241.55,105.67 242.40,105.53 243.25,105.39 244.10,105.24 244.95,105.08 245.79,104.92 246.64,104.74 247.49,104.56 248.34,104.37 249.19,104.18 250.03,103.97 250.88,103.76 251.73,103.53 252.58,103.30 253.43,103.06 254.27,102.81 255.12,102.56 255.97,102.29 256.82,102.02 257.67,101.73 258.51,101.44 259.36,101.14 260.21,100.84 261.06,100.52 261.91,100.20 262.75,99.87 263.60,99.53 264.45,99.19 265.30,98.84 266.15,98.49 266.99,98.13 267.84,97.77 268.69,97.41 269.54,97.04 270.39,96.67 271.24,96.30 272.08,95.93 272.93,95.56 273.78,95.19 274.63,94.82 275.48,94.45 276.32,94.09 277.17,93.74 278.02,93.39 278.87,93.05 279.72,92.72 280.56,92.39 281.41,92.08 282.26,91.78 283.11,91.49 283.96,91.22 284.80,90.96 285.65,90.72 286.50,90.49 287.35,90.28 288.20,90.10 289.04,89.93 289.89,89.78 290.74,89.66 291.59,89.56 292.44,89.48 293.28,89.43 294.13,89.40 294.98,89.40 295.83,89.43 296.68,89.48 297.52,89.56 298.37,89.66 299.22,89.80 300.07,89.96 300.92,90.14 301.76,90.36 302.61,90.60 303.46,90.87 304.31,91.17 305.16,91.49 306.00,91.83 306.85,92.20 307.70,92.59 308.55,93.00 309.40,93.43 310.24,93.89 311.09,94.36 311.94,94.84 312.79,95.34 313.64,95.85 314.48,96.38 315.33,96.91 316.18,97.45 317.03,98.00 317.88,98.55 318.72,99.10 319.57,99.65 320.42,100.20 321.27,100.74 322.12,101.28 322.96,101.81 323.81,102.33 324.66,102.83 325.51,103.32 326.36,103.79 327.20,104.24 328.05,104.67 328.90,105.08 329.75,105.46 330.60,105.82 331.44,106.15 332.29,106.45 333.14,106.72 333.99,106.96 334.84,107.17 335.68,107.34 336.53,107.48 337.38,107.59 338.23,107.66 339.08,107.70 339.92,107.70 340.77,107.66 341.62,107.59 342.47,107.48 343.32,107.34 344.16,107.17 345.01,106.96 345.86,106.72 346.71,106.45 347.56,106.15 348.40,105.82 349.25,105.46 350.10,105.08 350.95,104.67 351.80,104.24 352.64,103.79 353.49,103.32 354.34,102.83 355.19,102.33 356.04,101.81 356.88,101.28 357.73,100.74 358.58,100.20 359.43,99.65 360.28,99.10 361.12,98.55 361.97,98.00 362.82,97.45 363.67,96.91 364.52,96.38 365.36,95.85 366.21,95.34 367.06,94.84 367.91,94.36 368.76,93.89 369.60,93.43 370.45,93.00 371.30,92.59 372.15,92.20 373.00,91.83 373.84,91.49 374.69,91.17 375.54,90.87 376.39,90.60 377.24,90.36 378.08,90.14 378.93,89.96 379.78,89.80 380.63,89.66 381.48,89.56 382.32,89.48 383.17,89.43 384.02,89.40 384.87,89.40 385.72,89.43 386.56,89.48 387.41,89.56 388.26,89.66 389.11,89.78 389.96,89.93 390.80,90.10 391.65,90.28 392.50,90.49 393.35,90.72 394.20,90.96 395.04,91.22 395.89,91.49 396.74,91.78 397.59,92.08 398.44,92.39 399.28,92.72 400.13,93.05 400.98,93.39 401.83,93.74 402.68,94.09 403.52,94.45 404.37,94.82 405.22,95.19 406.07,95.56 406.92,95.93 407.76,96.30 408.61,96.67 409.46,97.04 410.31,97.41 411.16,97.77 412.01,98.13 412.85,98.49 413.70,98.84 414.55,99.19 415.40,99.53 416.25,99.87 417.09,100.20 417.94,100.52 418.79,100.84 419.64,101.14 420.49,101.44 421.33,101.73 422.18,102.02 423.03,102.29 423.88,102.56 424.73,102.81 425.57,103.06 426.42,103.30 427.27,103.53 428.12,103.76 428.97,103.97 429.81,104.18 430.66,104.37 431.51,104.56 432.36,104.74 433.21,104.92 434.05,105.08 434.90,105.24 435.75,105.39 436.60,105.53 437.45,105.67 438.29,105.80 439.14,105.92 439.99,106.03 440.84,106.14 441.69,106.25 442.53,106.35 443.38,106.44 444.23,106.52 445.08,106.61 445.93,106.68 446.77,106.76 447.62,106.82 448.47,106.89 449.32,106.95 450.17,107.00 451.01,107.06 451.86,107.11 452.71,107.15 453.56,107.19 454.41,107.23 455.25,107.27 456.10,107.30 456.95,107.34 457.80,107.37 458.65,107.39 459.49,107.42 460.34,107.44 461.19,107.46 462.04,107.48 462.89,107.50 463.73,107.52 464.58,107.54 465.43,107.55 466.28,107.56" fill="none" stroke="#ec7416" stroke-opacity="0.503" stroke-width="1.22"/>
<polygon points="245.59,127.07 246.22,127.06 246.85,127.04 247.48,127.03 248.11,127.01 248.74,126.99 249.36,126.97 249.99,126.96 250.62,126.94 251.25,126.92 251.88,126.89 252.50,126.87 253.13,126.85 253.76,126.82 254.39,126.80 255.02,126.77 255.65,126.74 256.27,126.71 256.90,126.68 257.53,126.65 258.16,126.61 258.79,126.58 259.41,126.54 260.04,126.50 260.67,126.46 261.30,126.42 261.93,126.37 262.55,126.33 263.18,126.28 263.81,126.23 264.44,126.18 265.07,126.13 265.70,126.07 266.32,126.01 266.95,125.95 267.58,125.89 268.21,125.83 268.84,125.76 269.46,125.69 270.09,125.62 270.72,125.55 271.35,125.47 271.98,125.39 272.60,125.31 273.23,125.23 273.86,125.14 274.49,125.05 275.12,124.96 275.75,124.86 276.37,124.76 277.00,124.66 277.63,124.56 278.26,124.45 278.89,124.34 279.51,124.23 280.14,124.11 280.77,123.99 281.40,123.87 282.03,123.74 282.65,123.61 283.28,123.48 283.91,123.35 284.54,123.21 285.17,123.07 285.80,122.92 286.42,122.77 287.05,122.62 287.68,122.47 288.31,122.31 288.94,122.15 289.56,121.99 290.19,121.82 290.82,121.65 291.45,121.48 292.08,121.30 292.70,121.12 293.33,120.94 293.96,120.76 294.59,120.57 295.22,120.38 295.85,120.19 296.47,119.99 297.10,119.80 297.73,119.60 298.36,119.39 298.99,119.19 299.61,118.99 300.24,118.78 300.87,118.57 301.50,118.36 302.13,118.15 302.75,117.93 303.38,117.72 304.01,117.50 304.64,117.28 305.27,117.07 305.90,116.85 306.52,116.63 307.15,116.41 307.78,116.19 308.41,115.97 309.04,115.75 309.66,115.53 310.29,115.31 310.92,115.09 311.55,114.88 312.18,114.66 312.80,114.45 313.43,114.23 314.06,114.02 314.69,113.81 315.32,113.61 315.95,113.40 316.57,113.20 317.20,113.00 317.83,112.80 318.46,112.61 319.09,112.42 319.71,112.23 320.34,112.04 320.97,111.86 321.60,111.69 322.23,111.52 322.85,111.35 323.48,111.19 324.11,111.03 324.74,110.87 325.37,110.72 326.00,110.58 326.62,110.44 327.25,110.31 327.88,110.18 328.51,110.06 329.14,109.95 329.76,109.84 330.39,109.74 331.02,109.64 331.65,109.55 332.28,109.47 332.90,109.39 333.53,109.32 334.16,109.26 334.79,109.20 335.42,109.15 336.05,109.11 336.67,109.07 337.30,109.04 337.93,109.02 338.56,109.01 339.19,109.00 339.81,109.00 340.44,109.01 341.07,109.02 341.70,109.04 342.33,109.07 342.95,109.11 343.58,109.15 344.21,109.20 344.84,109.26 345.47,109.32 346.10,109.39 346.72,109.47 347.35,109.55 347.98,109.64 348.61,109.74 349.24,109.84 349.86,109.95 350.49,110.06 351.12,110.18 351.75,110.31 352.38,110.44 353.00,110.58 353.63,110.72 354.26,110.87 354.89,111.03 355.52,111.19 356.15,111.35 356.77,111.52 357.40,111.69 358.03,111.86 358.66,112.04 359.29,112.23 359.91,112.42 360.54,112.61 361.17,112.80 361.80,113.00 362.43,113.20 363.05,113.40 363.68,113.61 364.31,113.81 364.94,114.02 365.57,114.23 366.20,114.45 366.82,114.66 367.45,114.88 368.08,115.09 368.71,115.31 369.34,115.53 369.96,115.75 370.59,115.97 371.22,116.19 371.85,116.41 372.48,116.63 373.10,116.85 373.73,117.07 374.36,117.28 374.99,117.50 375.62,117.72 376.25,117.93 376.87,118.15 377.50,118.36 378.13,118.57 378.76,118.78 379.39,118.99 380.01,119.19 380.64,119.39 381.27,119.60 381.90,119.80 382.53,119.99 383.15,120.19 383.78,120.38 384.41,120.57 385.04,120.76 385.67,120.94 386.30,121.12 386.92,121.30 387.55,121.48 388.18,121.65 388.81,121.82 389.44,121.99 390.06,122.15 390.69,122.31 391.32,122.47 391.95,122.62 392.58,122.77 393.20,122.92 393.83,123.07 394.46,123.21 395.09,123.35 395.72,123.48 396.35,123.61 396.97,123.74 397.60,123.87 398.23,123.99 398.86,124.11 399.49,124.23 400.11,124.34 400.74,124.45 401.37,124.56 402.00,124.66 402.63,124.76 403.25,124.86 403.88,124.96 404.51,125.05 405.14,125.14 405.77,125.23 406.40,125.31 407.02,125.39 407.65,125.47 408.28,125.55 408.91,125.62 409.54,125.69 410.16,125.76 410.79,125.83 411.42,125.89 412.05,125.95 412.68,126.01 413.30,126.07 413.93,126.13 414.56,126.18 415.19,126.23 415.82,126.28 416.45,126.33 417.07,126.37 417.70,126.42 418.33,126.46 418.96,126.50 419.59,126.54 420.21,126.58 420.84,126.61 421.47,126.65 422.10,126.68 422.73,126.71 423.35,126.74 423.98,126.77 424.61,126.80 425.24,126.82 425.87,126.85 426.50,126.87 427.12,126.89 427.75,126.92 428.38,126.94 429.01,126.96 429.64,126.97 430.26,126.99 430.89,127.01 431.52,127.03 432.15,127.04 432.78,127.06 433.41,127.07 433.41,127.30 245.59,127.30" fill="url(#g0)"/>
<polyline points="245.59,127.07 246.22,127.06 246.85,127.04 247.48,127.03 248.11,127.01 248.74,126.99 249.36,126.97 249.99,126.96 250.62,126.94 251.25,126.92 251.88,126.89 252.50,126.87 253.13,126.85 253.76,126.82 254.39,126.80 255.02,126.77 255.65,126.74 256.27,126.71 256.90,126.68 257.53,126.65 258.16,126.61 258.79,126.58 259.41,126.54 260.04,126.50 260.67,126.46 261.30,126.42 261.93,126.37 262.55,126.33 263.18,126.28 263.81,126.23 264.44,126.18 265.07,126.13 265.70,126.07 266.32,126.01 266.95,125.95 267.58,125.89 268.21,125.83 268.84,125.76 269.46,125.69 270.09,125.62 270.72,125.55 271.35,125.47 271.98,125.39 272.60,125.31 273.23,125.23 273.86,125.14 274.49,125.05 275.12,124.96 275.75,124.86 276.37,124.76 277.00,124.66 277.63,124.56 278.26,124.45 278.89,124.34 279.51,124.23 280.14,124.11 280.77,123.99 281.40,123.87 282.03,123.74 282.65,123.61 283.28,123.48 283.91,123.35 284.54,123.21 285.17,123.07 285.80,122.92 286.42,122.77 287.05,122.62 287.68,122.47 288.31,122.31 288.94,122.15 289.56,121.99 290.19,121.82 290.82,121.65 291.45,121.48 292.08,121.30 292.70,121.12 293.33,120.94 293.96,120.76 294.59,120.57 295.22,120.38 295.85,120.19 296.47,119.99 297.10,119.80 297.73,119.60 298.36,119.39 298.99,119.19 299.61,118.99 300.24,118.78 300.87,118.57 301.50,118.36 302.13,118.15 302.75,117.93 303.38,117.72 304.01,117.50 304.64,117.28 305.27,117.07 305.90,116.85 306.52,116.63 307.15,116.41 307.78,116.19 308.41,115.97 309.04,115.75 309.66,115.53 310.29,115.31 310.92,115.09 311.55,114.88 312.18,114.66 312.80,114.45 313.43,114.23 314.06,114.02 314.69,113.81 315.32,113.61 315.95,113.40 316.57,113.20 317.20,113.00 317.83,112.80 318.46,112.61 319.09,112.42 319.71,112.23 320.34,112.04 320.97,111.86 321.60,111.69 322.23,111.52 322.85,111.35 323.48,111.19 324.11,111.03 324.74,110.87 325.37,110.72 326.00,110.58 326.62,110.44 327.25,110.31 327.88,110.18 328.51,110.06 329.14,109.95 329.76,109.84 330.39,109.74 331.02,109.64 331.65,109.55 332.28,109.47 332.90,109.39 333.53,109.32 334.16,109.26 334.79,109.20 335.42,109.15 336.05,109.11 336.67,109.07 337.30,109.04 337.93,109.02 338.56,109.01 339.19,109.00 339.81,109.00 340.44,109.01 341.07,109.02 341.70,109.04 342.33,109.07 342.95,109.11 343.58,109.15 344.21,109.20 344.84,109.26 345.47,109.32 346.10,109.39 346.72,109.47 347.35,109.55 347.98,109.64 348.61,109.74 349.24,109.84 349.86,109.95 350.49,110.06 351.12,110.18 351.75,110.31 352.38,110.44 353.00,110.58 353.63,110.72 354.26,110.87 354.89,111.03 355.52,111.19 356.15,111.35 356.77,111.52 357.40,111.69 358.03,111.86 358.66,112.04 359.29,112.23 359.91,112.42 360.54,112.61 361.17,112.80 361.80,113.00 362.43,113.20 363.05,113.40 363.68,113.61 364.31,113.81 364.94,114.02 365.57,114.23 366.20,114.45 366.82,114.66 367.45,114.88 368.08,115.09 368.71,115.31 369.34,115.53 369.96,115.75 370.59,115.97 371.22,116.19 371.85,116.41 372.48,116.63 373.10,116.85 373.73,117.07 374.36,117.28 374.99,117.50 375.62,117.72 376.25,117.93 376.87,118.15 377.50,118.36 378.13,118.57 378.76,118.78 379.39,118.99 380.01,119.19 380.64,119.39 381.27,119.60 381.90,119.80 382.53,119.99 383.15,120.19 383.78,120.38 384.41,120.57 385.04,120.76 385.67,120.94 386.30,121.12 386.92,121.30 387.55,121.48 388.18,121.65 388.81,121.82 389.44,121.99 390.06,122.15 390.69,122.31 391.32,122.47 391.95,122.62 392.58,122.77 393.20,122.92 393.83,123.07 394.46,123.21 395.09,123.35 395.72,123.48 396.35,123.61 396.97,123.74 397.60,123.87 398.23,123.99 398.86,124.11 399.49,124.23 400.11,124.34 400.74,124.45 401.37,124.56 402.00,124.66 402.63,124.76 403.25,124.86 403.88,124.96 404.51,125.05 405.14,125.14 405.77,125.23 406.40,125.31 407.02,125.39 407.65,125.47 408.28,125.55 408.91,125.62 409.54,125.69 410.16,125.76 410.79,125.83 411.42,125.89 412.05,125.95 412.68,126.01 413.30,126.07 413.93,126.13 414.56,126.18 415.19,126.23 415.82,126.28 416.45,126.33 417.07,126.37 417.70,126.42 418.33,126.46 418.96,126.50 419.59,126.54 420.21,126.58 420.84,126.61 421.47,126.65 422.10,126.68 422.73,126.71 423.35,126.74 423.98,126.77 424.61,126.80 425.24,126.82 425.87,126.85 426.50,126.87 427.12,126.89 427.75,126.92 428.38,126.94 429.01,126.96 429.64,126.97 430.26,126.99 430.89,127.01 431.52,127.03 432.15,127.04 432.78,127.06 433.41,127.07" fill="none" stroke="#ec7416" stroke-opacity="0.900" stroke-width="1.40"/>
<g stroke="#a5a5a5" stroke-width="3.0" stroke-dasharray="11.17 4.83" fill="none"><line x1="47.5" y1="137.10" x2="530" y2="137.10"/><line x1="47.5" y1="332.80" x2="530" y2="332.80"/><line x1="227.20" y1="352" x2="227.20" y2="-10"/><line x1="339.50" y1="352" x2="339.50" y2="-10"/></g>
<g transform="translate(0.00 0.00)"><g style="fill: #ec7416; opacity: 0.096154" transform="translate(39.966894 34.81875)"><text><tspan x="0" y="-0.15625" style="font-style: oblique; font-size: 20px; font-family: 'DejaVu Sans', sans-serif; fill: #ec7416">w</tspan><tspan x="16.357422" y="3.125" style="font-size: 14px; font-family: 'DejaVu Sans', sans-serif; fill: #ec7416">5</tspan><tspan x="29.708008 50.362305 63.086914 69.444336 82.168945" y="-0.15625" style="font-size: 20px; font-family: 'DejaVu Sans', sans-serif; fill: #ec7416">=0.03</tspan></text></g></g>
<g transform="translate(0.00 0.00)"><g style="fill: #ec7416; opacity: 0.160256" transform="translate(54.184937 54.41875)"><text><tspan x="0" y="-0.15625" style="font-style: oblique; font-size: 20px; font-family: 'DejaVu Sans', sans-serif; fill: #ec7416">w</tspan><tspan x="16.357422" y="3.125" style="font-size: 14px; font-family: 'DejaVu Sans', sans-serif; fill: #ec7416">4</tspan><tspan x="29.708008 50.362305 63.086914 69.444336 82.168945" y="-0.15625" style="font-size: 20px; font-family: 'DejaVu Sans', sans-serif; fill: #ec7416">=0.05</tspan></text></g></g>
<g transform="translate(0.00 0.00)"><g style="fill: #ec7416; opacity: 0.288462" transform="translate(70.092482 74.01875)"><text><tspan x="0" y="-0.15625" style="font-style: oblique; font-size: 20px; font-family: 'DejaVu Sans', sans-serif; fill: #ec7416">w</tspan><tspan x="16.357422" y="3.125" style="font-size: 14px; font-family: 'DejaVu Sans', sans-serif; fill: #ec7416">3</tspan><tspan x="29.708008 50.362305 63.086914 69.444336 82.168945" y="-0.15625" style="font-size: 20px; font-family: 'DejaVu Sans', sans-serif; fill: #ec7416">=0.09</tspan></text></g></g>
<g transform="translate(0.00 0.00)"><g style="fill: #ec7416; opacity: 0.448718" transform="translate(88.489321 93.61875)"><text><tspan x="0" y="-0.15625" style="font-style: oblique; font-size: 20px; font-family: 'DejaVu Sans', sans-serif; fill: #ec7416">w</tspan><tspan x="16.357422" y="3.125" style="font-size: 14px; font-family: 'DejaVu Sans', sans-serif; fill: #ec7416">2</tspan><tspan x="29.708008 50.362305 63.086914 69.444336 82.168945" y="-0.15625" style="font-size: 20px; font-family: 'DejaVu Sans', sans-serif; fill: #ec7416">=0.14</tspan></text></g></g>
<g transform="translate(0.00 0.00)"><g style="fill: #ec7416; opacity: 0.769231" transform="translate(112.322222 113.21875)"><text><tspan x="0" y="-0.15625" style="font-style: oblique; font-size: 20px; font-family: 'DejaVu Sans', sans-serif; fill: #ec7416">w</tspan><tspan x="16.357422" y="3.125" style="font-size: 14px; font-family: 'DejaVu Sans', sans-serif; fill: #ec7416">1</tspan><tspan x="29.708008 50.362305 63.086914 68.319336 81.043945" y="-0.15625" style="font-size: 20px; font-family: 'DejaVu Sans', sans-serif; fill: #ec7416">=0.24</tspan></text></g></g>
<g transform="translate(0.00 0.00)"><g style="fill: #ec7416" transform="translate(143.994979 132.81875)"><text><tspan x="0" y="-0.15625" style="font-style: oblique; font-size: 20px; font-family: 'DejaVu Sans', sans-serif; fill: #ec7416">w</tspan><tspan x="16.357422" y="3.125" style="font-size: 14px; font-family: 'DejaVu Sans', sans-serif; fill: #ec7416">0</tspan><tspan x="29.708008 50.362305 63.086914 69.444336 82.168945" y="-0.15625" style="font-size: 20px; font-family: 'DejaVu Sans', sans-serif; fill: #ec7416">=0.39</tspan></text></g></g>
<g transform="translate(0.00 0.00)"><g style="fill: #ec7416" transform="translate(273 30.6)"><text><tspan x="0" y="-8.795313" style="font-size: 14px; font-family: 'DejaVu Sans', sans-serif; fill: #ec7416">1</tspan><tspan x="0" y="7.845312" style="font-size: 14px; font-family: 'DejaVu Sans', sans-serif; fill: #ec7416">2</tspan><tspan x="11.407227" y="-0.0375" style="font-size: 20px; font-family: 'DejaVu Sans', sans-serif; fill: #ec7416">Ω</tspan><tspan x="26.881836" y="-7.69375" style="font-size: 14px; font-family: 'DejaVu Sans', sans-serif; fill: #ec7416">2</tspan><tspan x="36.335938" y="-0.0375" style="font-size: 20px; font-family: 'DejaVu Sans', sans-serif; fill: #ec7416">(</tspan><tspan x="44.138672" y="-0.0375" style="font-style: oblique; font-size: 20px; font-family: 'DejaVu Sans', sans-serif; fill: #ec7416">Q</tspan><tspan x="63.777344 84.431641" y="-0.0375" style="font-size: 20px; font-family: 'DejaVu Sans', sans-serif; fill: #ec7416">−Δ</tspan><tspan x="98.113281" y="-0.0375" style="font-style: oblique; font-size: 20px; font-family: 'DejaVu Sans', sans-serif; fill: #ec7416">Q</tspan><tspan x="113.855469" y="-0.0375" style="font-size: 20px; font-family: 'DejaVu Sans', sans-serif; fill: #ec7416">)</tspan><tspan x="121.849609" y="-7.69375" style="font-size: 14px; font-family: 'DejaVu Sans', sans-serif; fill: #ec7416">2</tspan></text><rect x="0" y="-4.795313" width="8.907227" height="1.25"/></g></g>
<g transform="translate(0.00 0.00)"><g style="fill: #1585dc" transform="translate(195 313.6)"><text><tspan x="0" y="-8.795313" style="font-size: 14px; font-family: 'DejaVu Sans', sans-serif; fill: #1585dc">1</tspan><tspan x="0" y="7.845312" style="font-size: 14px; font-family: 'DejaVu Sans', sans-serif; fill: #1585dc">2</tspan><tspan x="11.407227" y="-0.0375" style="font-size: 20px; font-family: 'DejaVu Sans', sans-serif; fill: #1585dc">Ω</tspan><tspan x="26.881836" y="-7.69375" style="font-size: 14px; font-family: 'DejaVu Sans', sans-serif; fill: #1585dc">2</tspan><tspan x="36.335938" y="-0.0375" style="font-style: oblique; font-size: 20px; font-family: 'DejaVu Sans', sans-serif; fill: #1585dc">Q</tspan><tspan x="53.518229" y="-7.69375" style="font-size: 14px; font-family: 'DejaVu Sans', sans-serif; fill: #1585dc">2</tspan></text><rect x="0" y="-4.795313" width="8.907227" height="1.25"/></g></g>
<g clip-path="url(#ax)">
<polyline points="172.03,0.80 172.87,2.16 173.71,3.52 174.55,4.87 175.39,6.21 176.23,7.55 177.07,8.88 177.91,10.20 178.75,11.51 179.59,12.82 180.43,14.12 181.27,15.42 182.11,16.70 182.95,17.98 183.78,19.26 184.62,20.53 185.46,21.79 186.30,23.04 187.14,24.29 187.98,25.53 188.82,26.76 189.66,27.98 190.50,29.20 191.34,30.42 192.18,31.62 193.02,32.82 193.86,34.01 194.70,35.20 195.54,36.37 196.38,37.55 197.22,38.71 198.06,39.87 198.89,41.02 199.73,42.16 200.57,43.30 201.41,44.43 202.25,45.55 203.09,46.67 203.93,47.78 204.77,48.88 205.61,49.98 206.45,51.07 207.29,52.15 208.13,53.22 208.97,54.29 209.81,55.35 210.65,56.41 211.49,57.46 212.33,58.50 213.17,59.53 214.00,60.56 214.84,61.58 215.68,62.59 216.52,63.60 217.36,64.60 218.20,65.59 219.04,66.58 219.88,67.56 220.72,68.53 221.56,69.50 222.40,70.46 223.24,71.41 224.08,72.35 224.92,73.29 225.76,74.22 226.60,75.15 227.44,76.07 228.27,76.98 229.11,77.88 229.95,78.78 230.79,79.67 231.63,80.55 232.47,81.43 233.31,82.30 234.15,83.16 234.99,84.02 235.83,84.87 236.67,85.71 237.51,86.55 238.35,87.37 239.19,88.20 240.03,89.01 240.87,89.82 241.71,90.62 242.55,91.41 243.38,92.20 244.22,92.98 245.06,93.76 245.90,94.52 246.74,95.28 247.58,96.04 248.42,96.78 249.26,97.52 250.10,98.26 250.94,98.98 251.78,99.70 252.62,100.41 253.46,101.12 254.30,101.82 255.14,102.51 255.98,103.20 256.82,103.87 257.66,104.54 258.49,105.21 259.33,105.87 260.17,106.52 261.01,107.16 261.85,107.80 262.69,108.43 263.53,109.05 264.37,109.67 265.21,110.28 266.05,110.88 266.89,111.48 267.73,112.07 268.57,112.65 269.41,113.22 270.25,113.79 271.09,114.35 271.93,114.91 272.76,115.46 273.60,116.00 274.44,116.53 275.28,117.06 276.12,117.58 276.96,118.09 277.80,118.60 278.64,119.10 279.48,119.59 280.32,120.08 281.16,120.56 282.00,121.03 282.84,121.50 283.68,121.96 284.52,122.41 285.36,122.85 286.20,123.29 287.04,123.72 287.87,124.15 288.71,124.57 289.55,124.98 290.39,125.38 291.23,125.78 292.07,126.17 292.91,126.55 293.75,126.93 294.59,127.30 295.43,127.66 296.27,128.02 297.11,128.37 297.95,128.71 298.79,129.04 299.63,129.37 300.47,129.70 301.31,130.01 302.15,130.32 302.98,130.62 303.82,130.91 304.66,131.20 305.50,131.48 306.34,131.76 307.18,132.02 308.02,132.28 308.86,132.54 309.70,132.78 310.54,133.02 311.38,133.26 312.22,133.48 313.06,133.70 313.90,133.91 314.74,134.12 315.58,134.32 316.42,134.51 317.25,134.70 318.09,134.87 318.93,135.04 319.77,135.21 320.61,135.37 321.45,135.52 322.29,135.66 323.13,135.80 323.97,135.93 324.81,136.05 325.65,136.17 326.49,136.28 327.33,136.38 328.17,136.48 329.01,136.56 329.85,136.65 330.69,136.72 331.53,136.79 332.36,136.85 333.20,136.91 334.04,136.96 334.88,137.00 335.72,137.03 336.56,137.06 337.40,137.08 338.24,137.09 339.08,137.10 339.92,137.10 340.76,137.09 341.60,137.08 342.44,137.06 343.28,137.03 344.12,137.00 344.96,136.96 345.80,136.91 346.64,136.85 347.47,136.79 348.31,136.72 349.15,136.65 349.99,136.56 350.83,136.48 351.67,136.38 352.51,136.28 353.35,136.17 354.19,136.05 355.03,135.93 355.87,135.80 356.71,135.66 357.55,135.52 358.39,135.37 359.23,135.21 360.07,135.04 360.91,134.87 361.75,134.70 362.58,134.51 363.42,134.32 364.26,134.12 365.10,133.91 365.94,133.70 366.78,133.48 367.62,133.26 368.46,133.02 369.30,132.78 370.14,132.54 370.98,132.28 371.82,132.02 372.66,131.76 373.50,131.48 374.34,131.20 375.18,130.91 376.02,130.62 376.85,130.32 377.69,130.01 378.53,129.70 379.37,129.37 380.21,129.04 381.05,128.71 381.89,128.37 382.73,128.02 383.57,127.66 384.41,127.30 385.25,126.93 386.09,126.55 386.93,126.17 387.77,125.78 388.61,125.38 389.45,124.98 390.29,124.57 391.13,124.15 391.96,123.72 392.80,123.29 393.64,122.85 394.48,122.41 395.32,121.96 396.16,121.50 397.00,121.03 397.84,120.56 398.68,120.08 399.52,119.59 400.36,119.10 401.20,118.60 402.04,118.09 402.88,117.58 403.72,117.06 404.56,116.53 405.40,116.00 406.24,115.46 407.07,114.91 407.91,114.35 408.75,113.79 409.59,113.22 410.43,112.65 411.27,112.07 412.11,111.48 412.95,110.88 413.79,110.28 414.63,109.67 415.47,109.05 416.31,108.43 417.15,107.80 417.99,107.16 418.83,106.52 419.67,105.87 420.51,105.21 421.34,104.54 422.18,103.87 423.02,103.20 423.86,102.51 424.70,101.82 425.54,101.12 426.38,100.41 427.22,99.70 428.06,98.98 428.90,98.26 429.74,97.52 430.58,96.78 431.42,96.04 432.26,95.28 433.10,94.52 433.94,93.76 434.78,92.98 435.62,92.20 436.45,91.41 437.29,90.62 438.13,89.82 438.97,89.01 439.81,88.20 440.65,87.37 441.49,86.55 442.33,85.71 443.17,84.87 444.01,84.02 444.85,83.16 445.69,82.30 446.53,81.43 447.37,80.55 448.21,79.67 449.05,78.78 449.89,77.88 450.73,76.98 451.56,76.07 452.40,75.15 453.24,74.22 454.08,73.29 454.92,72.35 455.76,71.41 456.60,70.46 457.44,69.50 458.28,68.53 459.12,67.56 459.96,66.58 460.80,65.59 461.64,64.60 462.48,63.60 463.32,62.59 464.16,61.58 465.00,60.56 465.83,59.53 466.67,58.50 467.51,57.46 468.35,56.41 469.19,55.35 470.03,54.29 470.87,53.22 471.71,52.15 472.55,51.07 473.39,49.98 474.23,48.88 475.07,47.78 475.91,46.67 476.75,45.55 477.59,44.43 478.43,43.30 479.27,42.16 480.11,41.02 480.94,39.87 481.78,38.71 482.62,37.55 483.46,36.37 484.30,35.20 485.14,34.01 485.98,32.82 486.82,31.62 487.66,30.42 488.50,29.20 489.34,27.98 490.18,26.76 491.02,25.53 491.86,24.29 492.70,23.04 493.54,21.79 494.38,20.53 495.22,19.26 496.05,17.98 496.89,16.70 497.73,15.42 498.57,14.12 499.41,12.82 500.25,11.51 501.09,10.20 501.93,8.88 502.77,7.55 503.61,6.21 504.45,4.87 505.29,3.52 506.13,2.16 506.97,0.80" fill="none" stroke="#ec7416" stroke-width="3.1"/>
<polyline points="40.00,162.49 41.12,164.53 42.25,166.55 43.37,168.57 44.50,170.57 45.62,172.56 46.75,174.54 47.87,176.51 48.99,178.46 50.12,180.40 51.24,182.33 52.37,184.25 53.49,186.15 54.61,188.04 55.74,189.92 56.86,191.79 57.99,193.64 59.11,195.49 60.24,197.32 61.36,199.14 62.48,200.94 63.61,202.74 64.73,204.52 65.86,206.29 66.98,208.04 68.11,209.79 69.23,211.52 70.35,213.24 71.48,214.95 72.60,216.64 73.73,218.33 74.85,220.00 75.98,221.66 77.10,223.30 78.22,224.94 79.35,226.56 80.47,228.17 81.60,229.77 82.72,231.35 83.84,232.92 84.97,234.48 86.09,236.03 87.22,237.57 88.34,239.09 89.47,240.60 90.59,242.10 91.71,243.59 92.84,245.06 93.96,246.52 95.09,247.97 96.21,249.41 97.34,250.84 98.46,252.25 99.58,253.65 100.71,255.04 101.83,256.42 102.96,257.78 104.08,259.13 105.21,260.47 106.33,261.80 107.45,263.11 108.58,264.41 109.70,265.70 110.83,266.98 111.95,268.25 113.07,269.50 114.20,270.74 115.32,271.97 116.45,273.19 117.57,274.39 118.70,275.58 119.82,276.76 120.94,277.93 122.07,279.08 123.19,280.23 124.32,281.36 125.44,282.48 126.57,283.58 127.69,284.67 128.81,285.76 129.94,286.83 131.06,287.88 132.19,288.93 133.31,289.96 134.44,290.98 135.56,291.99 136.68,292.98 137.81,293.96 138.93,294.93 140.06,295.89 141.18,296.84 142.30,297.77 143.43,298.69 144.55,299.60 145.68,300.50 146.80,301.39 147.93,302.26 149.05,303.12 150.17,303.97 151.30,304.80 152.42,305.62 153.55,306.44 154.67,307.23 155.80,308.02 156.92,308.79 158.04,309.56 159.17,310.31 160.29,311.04 161.42,311.77 162.54,312.48 163.67,313.18 164.79,313.87 165.91,314.55 167.04,315.21 168.16,315.86 169.29,316.50 170.41,317.13 171.53,317.74 172.66,318.34 173.78,318.93 174.91,319.51 176.03,320.08 177.16,320.63 178.28,321.17 179.40,321.70 180.53,322.21 181.65,322.72 182.78,323.21 183.90,323.69 185.03,324.16 186.15,324.61 187.27,325.05 188.40,325.48 189.52,325.90 190.65,326.31 191.77,326.70 192.90,327.08 194.02,327.45 195.14,327.81 196.27,328.15 197.39,328.48 198.52,328.80 199.64,329.11 200.76,329.40 201.89,329.69 203.01,329.96 204.14,330.22 205.26,330.46 206.39,330.69 207.51,330.92 208.63,331.12 209.76,331.32 210.88,331.51 212.01,331.68 213.13,331.84 214.26,331.99 215.38,332.12 216.50,332.24 217.63,332.35 218.75,332.45 219.88,332.54 221.00,332.61 222.12,332.67 223.25,332.72 224.37,332.76 225.50,332.79 226.62,332.80 227.75,332.80 228.87,332.79 229.99,332.76 231.12,332.73 232.24,332.68 233.37,332.62 234.49,332.54 235.62,332.46 236.74,332.36 237.86,332.25 238.99,332.12 240.11,331.99 241.24,331.84 242.36,331.68 243.49,331.51 244.61,331.33 245.73,331.13 246.86,330.92 247.98,330.70 249.11,330.47 250.23,330.22 251.35,329.96 252.48,329.69 253.60,329.41 254.73,329.12 255.85,328.81 256.98,328.49 258.10,328.16 259.22,327.82 260.35,327.46 261.47,327.09 262.60,326.71 263.72,326.32 264.85,325.91 265.97,325.49 267.09,325.07 268.22,324.62 269.34,324.17 270.47,323.70 271.59,323.22 272.72,322.73 273.84,322.23 274.96,321.71 276.09,321.18 277.21,320.64 278.34,320.09 279.46,319.53 280.58,318.95 281.71,318.36 282.83,317.76 283.96,317.14 285.08,316.52 286.21,315.88 287.33,315.23 288.45,314.56 289.58,313.89 290.70,313.20 291.83,312.50 292.95,311.79 294.08,311.06 295.20,310.33 296.32,309.58 297.45,308.82 298.57,308.04 299.70,307.26 300.82,306.46 301.95,305.65 303.07,304.83 304.19,303.99 305.32,303.14 306.44,302.28 307.57,301.41 308.69,300.53 309.81,299.63 310.94,298.72 312.06,297.80 313.19,296.87 314.31,295.92 315.44,294.96 316.56,293.99 317.68,293.01 318.81,292.01 319.93,291.01 321.06,289.99 322.18,288.96 323.31,287.91 324.43,286.86 325.55,285.79 326.68,284.71 327.80,283.61 328.93,282.51 330.05,281.39 331.18,280.26 332.30,279.12 333.42,277.96 334.55,276.80 335.67,275.62 336.80,274.42 337.92,273.22 339.04,272.01 340.17,270.78 341.29,269.54 342.42,268.28 343.54,267.02 344.67,265.74 345.79,264.45 346.91,263.15 348.04,261.83 349.16,260.51 350.29,259.17 351.41,257.82 352.54,256.45 353.66,255.08 354.78,253.69 355.91,252.29 357.03,250.88 358.16,249.45 359.28,248.02 360.41,246.57 361.53,245.10 362.65,243.63 363.78,242.14 364.90,240.65 366.03,239.13 367.15,237.61 368.27,236.08 369.40,234.53 370.52,232.97 371.65,231.40 372.77,229.81 373.90,228.21 375.02,226.61 376.14,224.98 377.27,223.35 378.39,221.70 379.52,220.05 380.64,218.38 381.77,216.69 382.89,215.00 384.01,213.29 385.14,211.57 386.26,209.84 387.39,208.09 388.51,206.34 389.64,204.57 390.76,202.79 391.88,200.99 393.01,199.19 394.13,197.37 395.26,195.54 396.38,193.70 397.50,191.84 398.63,189.98 399.75,188.10 400.88,186.20 402.00,184.30 403.13,182.38 404.25,180.46 405.37,178.51 406.50,176.56 407.62,174.60 408.75,172.62 409.87,170.63 411.00,168.63 412.12,166.61 413.24,164.58 414.37,162.55 415.49,160.49 416.62,158.43 417.74,156.35 418.86,154.27 419.99,152.17 421.11,150.05 422.24,147.93 423.36,145.79 424.49,143.64 425.61,141.48 426.73,139.30 427.86,137.12 428.98,134.92 430.11,132.71 431.23,130.48 432.36,128.25 433.48,126.00 434.60,123.74 435.73,121.47 436.85,119.18 437.98,116.89 439.10,114.58 440.23,112.25 441.35,109.92 442.47,107.57 443.60,105.22 444.72,102.84 445.85,100.46 446.97,98.07 448.09,95.66 449.22,93.24 450.34,90.81 451.47,88.36 452.59,85.90 453.72,83.44 454.84,80.95 455.96,78.46 457.09,75.95 458.21,73.44 459.34,70.91 460.46,68.36 461.59,65.81 462.71,63.24 463.83,60.66 464.96,58.07 466.08,55.46 467.21,52.85 468.33,50.22 469.46,47.58 470.58,44.92 471.70,42.26 472.83,39.58 473.95,36.89 475.08,34.19 476.20,31.47 477.32,28.75 478.45,26.01 479.57,23.26 480.70,20.49 481.82,17.72 482.95,14.93 484.07,12.13 485.19,9.31 486.32,6.49 487.44,3.65 488.57,0.80" fill="none" stroke="#1585dc" stroke-width="3.1"/>
</g>
<path d="M463.45,64.28 Q467.88,93.11 446.42,110.03" fill="none" stroke="#000" stroke-width="2.1"/>
<polygon points="440.52,114.16 445.84,105.67 450.48,113.15" fill="#000" stroke="#000" stroke-width="1" stroke-linejoin="miter"/>
<path d="M439.03,117.19 Q442.11,146.50 419.60,162.51" fill="none" stroke="#000" stroke-width="2.1"/>
<polygon points="413.50,166.35 419.23,158.13 423.51,165.81" fill="#000" stroke="#000" stroke-width="1" stroke-linejoin="miter"/>
<path d="M411.84,169.30 Q412.97,199.65 388.61,214.47" fill="none" stroke="#000" stroke-width="2.1"/>
<polygon points="382.25,217.87 388.52,210.06 392.26,218.03" fill="#000" stroke="#000" stroke-width="1" stroke-linejoin="miter"/>
<path d="M380.30,220.71 Q377.78,255.27 347.87,268.58" fill="none" stroke="#000" stroke-width="2.1"/>
<polygon points="341.15,271.18 348.28,264.15 351.08,272.49" fill="#000" stroke="#000" stroke-width="1" stroke-linejoin="miter"/>
<path d="M338.60,273.72 Q324.08,316.49 281.30,322.21" fill="none" stroke="#000" stroke-width="2.1"/>
<polygon points="274.13,322.90 282.85,317.97 283.37,326.75" fill="#000" stroke="#000" stroke-width="1" stroke-linejoin="miter"/>
<g stroke="#000" stroke-width="2.2" fill="none"><line x1="47.7" y1="353.1" x2="47.7" y2="12"/><line x1="46.6" y1="352.1" x2="508" y2="352.1"/><line x1="35.2" y1="137.10" x2="47.7" y2="137.10"/><line x1="35.2" y1="332.80" x2="47.7" y2="332.80"/><line x1="227.20" y1="352" x2="227.20" y2="364.1"/><line x1="339.50" y1="352" x2="339.50" y2="364.1"/></g>
<polygon points="47.8,5.8 42.9,15.6 52.7,15.6" fill="#000"/>
<polygon points="514,352.1 504,347.4 504,356.8" fill="#000"/>
<g transform="translate(0.00 0.00)"><g transform="translate(20.7 20.1)"><text><tspan x="0" y="-0.15625" style="font-style: oblique; font-size: 19.44px; font-family: 'DejaVu Sans', sans-serif">E</tspan></text></g></g>
<g transform="translate(0.00 0.00)"><g transform="translate(1 143.1)"><text><tspan x="0" y="-0.15625" style="font-size: 19.44px; font-family: 'DejaVu Sans', sans-serif">Δ</tspan><tspan x="13.3396" y="-0.15625" style="font-style: oblique; font-size: 19.44px; font-family: 'DejaVu Sans', sans-serif">E</tspan></text></g></g>
<g transform="translate(0.00 0.00)"><g transform="translate(17.4 340.4)"><text><tspan x="0" y="-0.890625" style="font-size: 19.44px; font-family: 'DejaVu Sans', sans-serif">0</tspan></text></g></g>
<g transform="translate(0.00 0.00)"><g transform="translate(221.2 384.8)"><text><tspan x="0" y="-0.890625" style="font-size: 19.44px; font-family: 'DejaVu Sans', sans-serif">0</tspan></text></g></g>
<g transform="translate(0.00 0.00)"><g transform="translate(324.6 386.5)"><text><tspan x="0" y="-0.890625" style="font-size: 19.44px; font-family: 'DejaVu Sans', sans-serif">Δ</tspan><tspan x="13.3396" y="-0.890625" style="font-style: oblique; font-size: 19.44px; font-family: 'DejaVu Sans', sans-serif">Q</tspan></text></g></g>
<g transform="translate(0.00 0.00)"><g transform="translate(503.5 377.5)"><text><tspan x="0" y="-0.890625" style="font-style: oblique; font-size: 19.44px; font-family: 'DejaVu Sans', sans-serif">Q</tspan></text></g></g>
<g font-family="'Liberation Sans', Arial, sans-serif" font-size="20.1" text-anchor="middle" fill="#000" stroke="#000" stroke-width="0.45"><text x="452" y="235">Multiphonon</text><text x="452" y="255.5">Emission</text></g>
</g></svg></body></html>
